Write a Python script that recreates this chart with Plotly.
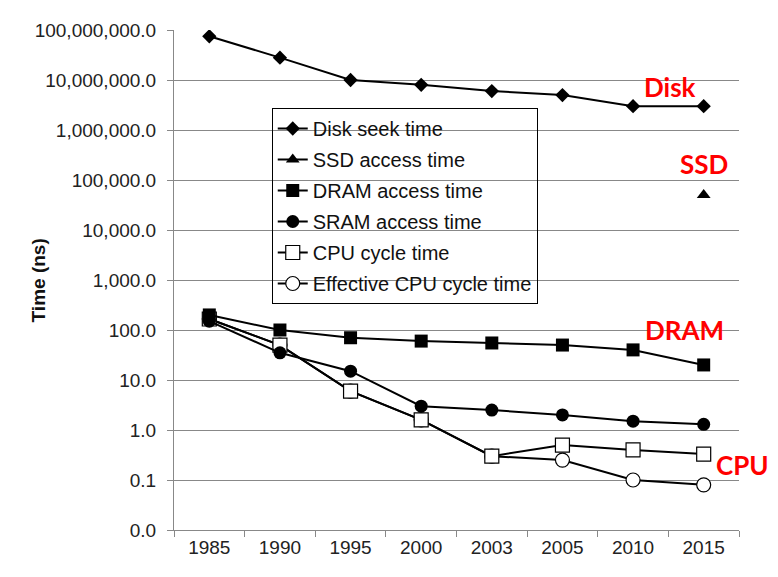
import plotly.graph_objects as go

years = ["1985", "1990", "1995", "2000", "2003", "2005", "2010", "2015"]
disk = [75_000_000, 28_000_000, 10_000_000, 8_000_000, 6_000_000, 5_000_000, 3_000_000, 3_000_000]
ssd = [None, None, None, None, None, None, None, 50_000]
dram = [200, 100, 70, 60, 55, 50, 40, 20]
sram = [150, 35, 15, 3, 2.5, 2.0, 1.5, 1.3]
cpu = [166, 50, 6, 1.6, 0.30, 0.50, 0.40, 0.33]
eff_cpu = [166, 50, 6, 1.6, 0.30, 0.25, 0.10, 0.08]

tick_vals = [0.01, 0.1, 1, 10, 100, 1e3, 1e4, 1e5, 1e6, 1e7, 1e8]
tick_text = ["0.0", "0.1", "1.0", "10.0", "100.0", "1,000.0", "10,000.0",
             "100,000.0", "1,000,000.0", "10,000,000.0", "100,000,000.0"]

series = [
    ("Disk seek time", disk, dict(symbol="diamond", size=11, color="black")),
    ("SSD access time", ssd, dict(symbol="triangle-up", size=12, color="black")),
    ("DRAM access time", dram, dict(symbol="square", size=13, color="black")),
    ("SRAM access time", sram, dict(symbol="circle", size=13, color="black")),
    ("CPU cycle time", cpu, dict(symbol="square", size=14, color="white",
                                 line=dict(color="black", width=1.2))),
    ("Effective CPU cycle time", eff_cpu, dict(symbol="circle", size=14, color="white",
                                               line=dict(color="black", width=1.2))),
]

fig = go.Figure()
order = [5, 4, 3, 2, 1, 0]
for i in order:
    name, vals, mk = series[i]
    fig.add_trace(go.Scatter(
        x=years, y=vals, name=name, mode="lines+markers",
        line=dict(color="black", width=2), marker=mk,
        legendgroup=name, legendrank=i + 1,
    ))

# plot area in window pixels: x 174..739, y 30..530
labels = [("Disk", 0.878, 0.886), ("SSD", 0.938, 0.732),
          ("DRAM", 0.904, 0.40), ("CPU", 1.007, 0.13)]
for txt, ax, ay in labels:
    fig.add_annotation(x=ax, y=ay, xref="paper", yref="paper", text=txt,
                       showarrow=False, xanchor="center", yanchor="middle",
                       font=dict(family="Lato", size=26, color="#ff0000", weight="bold"))

fig.add_annotation(x=-0.24, y=0.5, xref="paper", yref="paper", text="<b>Time (ns)</b>",
                   showarrow=False, textangle=-90, xanchor="center", yanchor="middle",
                   font=dict(family="Liberation Sans, Arial", size=19, color="#111"))

fig.update_layout(
    width=770, height=569,
    margin=dict(l=166, r=39, t=22, b=47),
    paper_bgcolor="white", plot_bgcolor="white",
    font=dict(family="Liberation Sans, Arial", size=19, color="#222"),
    showlegend=True,
    legend=dict(x=0.173, y=0.844, xanchor="left", yanchor="top",
                bgcolor="rgba(0,0,0,0)", bordercolor="black", borderwidth=1,
                font=dict(size=20, color="#111"), tracegroupgap=2,
                itemwidth=30),
)
fig.update_xaxes(type="category", range=[-0.5, 7.5], showgrid=False,
                 showline=True, linecolor="#888", linewidth=1,
                 ticks="outside", tickson="boundaries", ticklen=6, tickcolor="#888",
                 tickfont=dict(size=19, color="#222"), automargin=False)
fig.update_yaxes(type="log", range=[-2, 8], tickvals=tick_vals, ticktext=tick_text,
                 showgrid=True, gridcolor="#888", gridwidth=1,
                 showline=True, linecolor="#888", linewidth=1,
                 ticks="outside", ticklen=6, tickcolor="#888",
                 ticklabelstandoff=7, zeroline=False, automargin=False,
                 tickfont=dict(size=19, color="#222"))

fig.write_html("out.html")
